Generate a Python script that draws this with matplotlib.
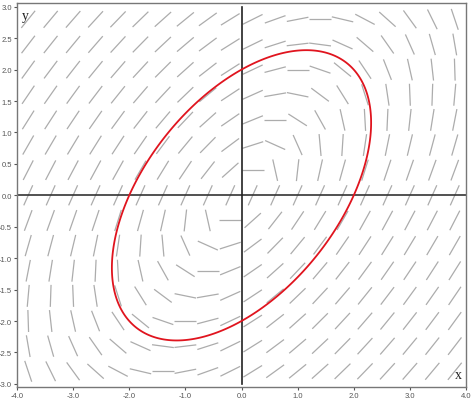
import matplotlib
matplotlib.use("Agg")
import matplotlib.pyplot as plt
import numpy as np
from matplotlib.collections import LineCollection

plt.rcParams["font.family"] = ["Liberation Sans", "DejaVu Sans"]
plt.rcParams["axes.unicode_minus"] = False

# system x' = a11 x + a12 y, y' = a21 x + a22 y
coef = [[-1.0, 2.0], [-2.0, 1.0]]
# grid of the direction field
grid_x = np.arange(-3.8, 3.81, 0.4)
grid_y = np.arange(-2.8, 2.81, 0.4)
# level of the drawn trajectory x^2 - xy + y^2 = c
orbit_level = [4.0]

xticks = [-4.0, -3.0, -2.0, -1.0, 0.0, 1.0, 2.0, 3.0, 4.0]
yticks = [-3.0, -2.5, -2.0, -1.5, -1.0, -0.5, 0.0, 0.5, 1.0, 1.5, 2.0, 2.5, 3.0]

fig = plt.figure(figsize=(4.74, 4.02), dpi=100)
ax = fig.add_axes([17 / 474, 14 / 402, 449 / 474, 384 / 402])
ax.set_xlim(-4, 4)
ax.set_ylim(-3.05, 3.06)

# pixel scale so each segment has the same on-screen length
fig.canvas.draw()
p0 = ax.transData.transform((0, 0))
p1 = ax.transData.transform((1, 1))
sx, sy = p1 - p0
half = 11.0

X, Y = np.meshgrid(grid_x, grid_y)
U = coef[0][0] * X + coef[0][1] * Y
V = coef[1][0] * X + coef[1][1] * Y
n = np.hypot(U * sx, V * sy)
du = U / n * half
dv = V / n * half
segs = np.stack([np.stack([X - du, Y - dv], -1),
                 np.stack([X + du, Y + dv], -1)], axis=-2).reshape(-1, 2, 2)
ax.add_collection(LineCollection(segs, colors="#acacac", linewidths=0.9))

# axes through the origin
ax.axhline(0, color="#333333", lw=1.2)
ax.plot([0, 0], [-3, 3], color="#222222", lw=1.2)

# trajectory
ex = np.linspace(-4, 4, 600)
ey = np.linspace(-3, 3, 600)
EX, EY = np.meshgrid(ex, ey)
ax.contour(EX, EY, EX**2 - EX * EY + EY**2, levels=orbit_level,
           colors="#e0141e", linewidths=1.3)

ax.set_xticks(xticks)
ax.set_yticks(yticks)
ax.set_xticklabels(["%.1f" % v for v in xticks])
ax.set_yticklabels(["%.1f" % v for v in yticks])
ax.tick_params(labelsize=5.5, colors="#555555", length=2, width=0.8, pad=1.5)
for s in ax.spines.values():
    s.set_color("#777777")
    s.set_linewidth(1.0)

ax.text(0.01, 0.985, "y", transform=ax.transAxes, ha="left", va="top",
        family="Liberation Serif", fontsize=10, color="#222222")
ax.text(0.99, 0.015, "x", transform=ax.transAxes, ha="right", va="bottom",
        family="Liberation Serif", fontsize=10, color="#222222")

fig.savefig("out.png", dpi=100)
